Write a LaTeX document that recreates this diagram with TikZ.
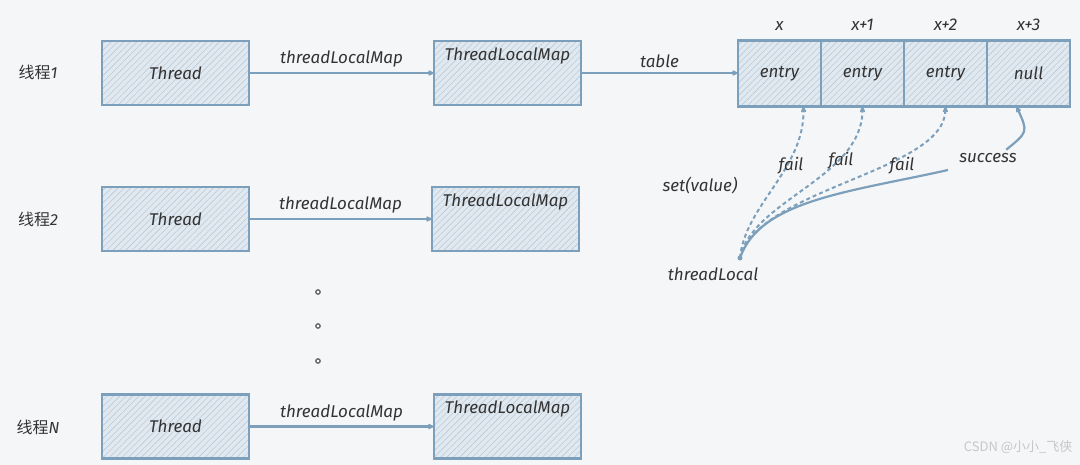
\documentclass[tikz,border=0pt]{standalone}
\usepackage{fontspec}
\setmainfont{Fira Sans}
\newfontfamily\cjk{Noto Sans CJK SC}
\usetikzlibrary{positioning,patterns.meta,arrows.meta}
\definecolor{fondo}{HTML}{F5F6F8}
\definecolor{borde}{HTML}{7C9FBB}
\definecolor{relleno}{HTML}{E1E9F0}
\definecolor{rayas}{HTML}{BBCAD7}
\definecolor{texto}{HTML}{333333}
\begin{document}
\begin{tikzpicture}[x=1pt,y=-1pt,
    every node/.style={text=texto, font=\itshape\fontsize{17}{19}\selectfont},
    caja/.style={draw=borde, line width=2.2pt, preaction={fill=relleno},
      pattern={Lines[angle=45,distance=4.5pt,line width=0.6pt]}, pattern color=rayas,
      minimum width=147pt, minimum height=64pt, outer sep=0pt},
    celda/.style={caja, minimum width=83pt, minimum height=66pt},
    flecha/.style={draw=borde, line width=2.2pt, -{Stealth[length=8pt,width=7pt,round]}},
    intento/.style={flecha, dashed, dash pattern=on 4pt off 3pt, line width=2pt},
    hilo/.style={font=\fontsize{16}{19}\selectfont}]

    % Fondo
    \useasboundingbox[fill=fondo] (0,0) rectangle (1080,465);

    % Hilos
    \node[hilo] (h1) at (38,72) {{\cjk 线程}\textit{1}};
    \node[hilo] (h2) at (38,219) {{\cjk 线程}\textit{2}};
    \node[hilo] (hn) at (38,427) {{\cjk 线程}\textit{N}};

    \node[caja] (t1) at (175.5,73) {Thread};
    \node[caja] (t2) at (175.5,219) {Thread};
    \node[caja] (tn) at (175.5,426.5) {Thread};

    \node[caja, right=185pt of t1, label={[below=3pt]north:ThreadLocalMap}] (m1) {};
    \node[caja, right=183pt of t2, label={[below=3pt]north:ThreadLocalMap}] (m2) {};
    \node[caja, right=185pt of tn, label={[below=3pt]north:ThreadLocalMap}] (mn) {};

    \draw[flecha] (t1) -- (m1) node[midway,above=1pt] {threadLocalMap};
    \draw[flecha] (t2) -- (m2) node[midway,above=1pt] {threadLocalMap};
    \draw[flecha] (tn) -- (mn) node[midway,above=1pt] {threadLocalMap};

    % Puntos
    \node[circle, draw=black!60, fill=white, line width=1.4pt, inner sep=1.5pt] (p1) at (318,292) {};
    \node[circle, draw=black!60, fill=white, line width=1.4pt, inner sep=1.5pt] (p2) at (318,326) {};
    \node[circle, draw=black!60, fill=white, line width=1.4pt, inner sep=1.5pt] (p3) at (318,361) {};

    % Tabla
    \node[celda] (e1) at (779.5,73.5) {entry};
    \node[celda, right=0pt of e1] (e2) {entry};
    \node[celda, right=0pt of e2] (e3) {entry};
    \node[celda, right=0pt of e3] (e4) {null};

    \node[above=6pt of e1] (i1) {x};
    \node[above=6pt of e2] (i2) {x+1};
    \node[above=6pt of e3] (i3) {x+2};
    \node[above=6pt of e4] (i4) {x+3};

    \draw[flecha] (m1.east) -- (m1.east -| e1.west) node[midway,above=1pt] {table};

    % threadLocal y set(value)
    \coordinate (tl) at (740,258);
    \fill[borde] (tl) circle (2.5pt);
    \node (tll) at (713,274) {threadLocal};
    \node (set) at (700,186) {set(value)};

    \draw[intento] (tl) .. controls (745,205) and (804,170) .. ([xshift=24pt]e1.south);
    \draw[intento] (tl) .. controls (752,200) and (862,178) .. (e2.south);
    \draw[intento] (tl) .. controls (758,188) and (944,172) .. (e3.south);
    \draw[draw=borde, line width=2.2pt] (tl) .. controls (760,200) and (850,192) .. (948,170);

    \node (f1) at (791,166) {fail};
    \node (f2) at (841,161) {fail};
    \node (f3) at (902,166) {fail};
    \node (ok) at (988,158) {success};

    \draw[flecha] (ok.north east) ++(-14,0) .. controls (1028,132) .. ([xshift=-12pt]e4.south);

    % Marca
    \node[text=black!22, font=\cjk\fontsize{13}{15}\selectfont, anchor=east] (marca) at (1076,447) {CSDN @小小\_飞侠};
\end{tikzpicture}
\end{document}
